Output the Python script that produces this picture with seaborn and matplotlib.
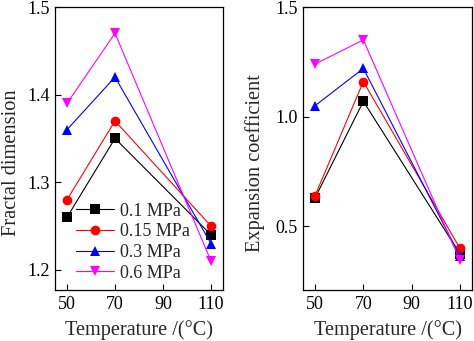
import matplotlib
matplotlib.use("Agg")
import matplotlib.pyplot as plt
import seaborn as sns
import pandas as pd

temperature = [50, 70, 110]
pressures = ["0.1 MPa", "0.15 MPa", "0.3 MPa", "0.6 MPa"]
fractal_01 = [1.26, 1.35, 1.24]
fractal_015 = [1.28, 1.37, 1.25]
fractal_03 = [1.36, 1.42, 1.23]
fractal_06 = [1.39, 1.47, 1.21]
expansion_01 = [0.63, 1.07, 0.375]
expansion_015 = [0.64, 1.16, 0.40]
expansion_03 = [1.05, 1.22, 0.365]
expansion_06 = [1.24, 1.35, 0.345]

sns.set_theme(style="ticks")
plt.rcParams['font.family'] = ['Liberation Serif', 'DejaVu Serif']

fractal = [fractal_01, fractal_015, fractal_03, fractal_06]
expansion = [expansion_01, expansion_015, expansion_03, expansion_06]
rows = []
for p, fv, ev in zip(pressures, fractal, expansion):
    for t, f, e in zip(temperature, fv, ev):
        rows.append({"T": t, "Pressure": p, "Fractal": f, "Expansion": e})
df = pd.DataFrame(rows)

palette = {"0.1 MPa": "black", "0.15 MPa": "#ff0000", "0.3 MPa": "#0000ff", "0.6 MPa": "#ff00ff"}
markers = {"0.1 MPa": "s", "0.15 MPa": "o", "0.3 MPa": "^", "0.6 MPa": "v"}

fig = plt.figure(figsize=(4.74, 3.41), dpi=100)
ax1 = fig.add_axes([55/474, 51/341, 168/474, 283/341])
ax2 = fig.add_axes([303/474, 51/341, 169/474, 283/341])

for ax, col, ylim, yt, ylab, ylx in [
    (ax1, "Fractal", (1.177, 1.5), [1.2, 1.3, 1.4, 1.5], "Fractal dimension", -0.256),
    (ax2, "Expansion", (0.21, 1.5), [0.5, 1.0, 1.5], "Expansion coefficient", -0.284),
]:
    sns.lineplot(data=df, x="T", y=col, hue="Pressure", style="Pressure",
                 palette=palette, markers=markers, dashes=False, ax=ax,
                 linewidth=0.8, markersize=7, markeredgewidth=0,
                 legend=(ax is ax1))
    ax.set_xlim(45, 115)
    ax.set_ylim(*ylim)
    ax.set_xticks([50, 70, 90, 110])
    ax.set_yticks(yt)
    ax.set_yticklabels([f"{v:.1f}" for v in yt])
    ax.set_xlabel("Temperature /(°C)", fontsize=14.6)
    ax.set_ylabel(ylab, fontsize=14.7)
    ax.xaxis.set_label_coords(0.5, -0.141)
    ax.xaxis.label.set_va("center")
    ax.yaxis.set_label_coords(ylx, 0.449)
    ax.yaxis.label.set_va("center")
    ax.tick_params(direction="in", length=4, width=0.8, labelsize=13, colors="black",
                   top=False, right=False, pad=4)
    for s in ax.spines.values():
        s.set_linewidth(0.9)
        s.set_color("black")

leg = ax1.legend(loc="lower left", bbox_to_anchor=(0.052, -0.015), frameon=False,
                 fontsize=13, handlelength=2.1, handletextpad=0.3,
                 labelspacing=0.2, borderpad=0.2)

fig.savefig("out.png", dpi=100)
